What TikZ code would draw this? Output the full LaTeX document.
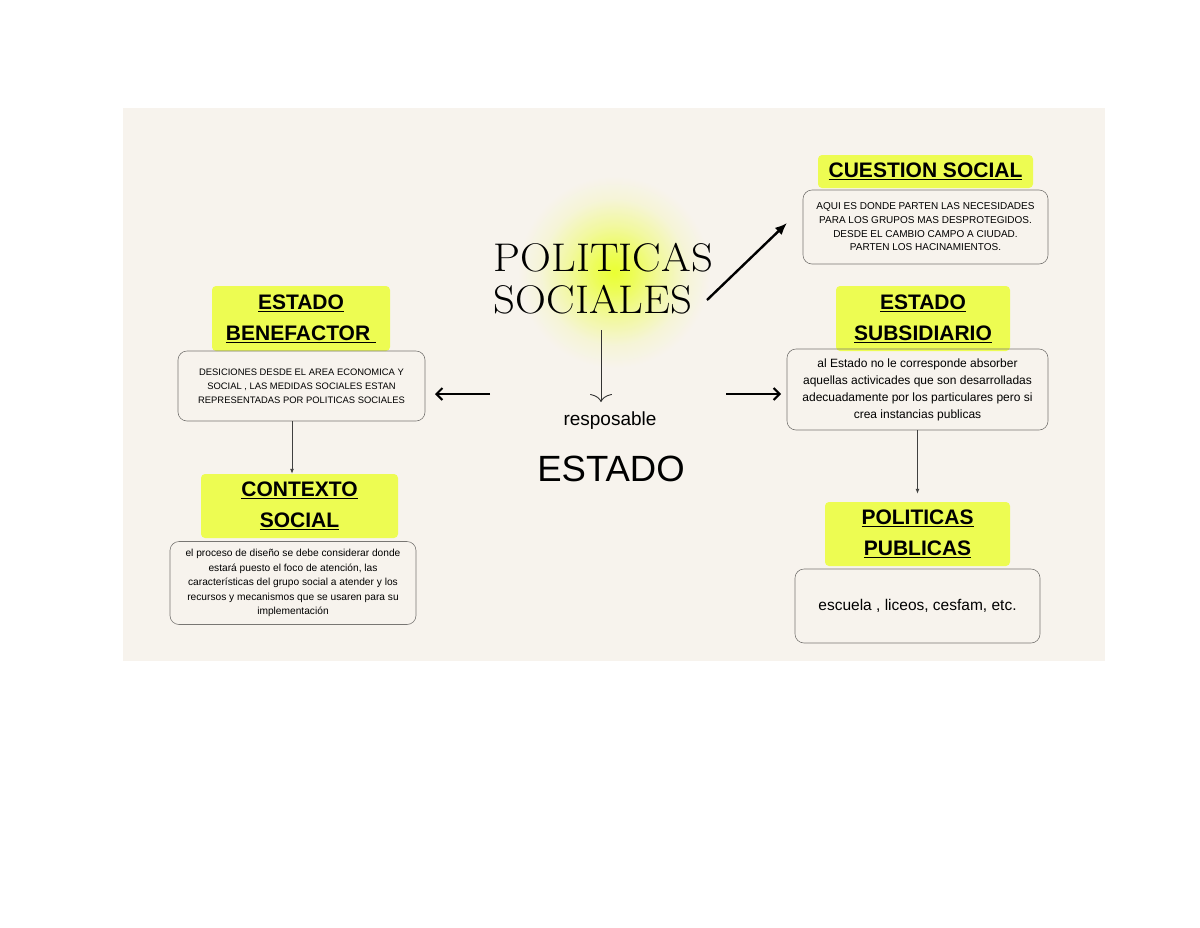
\documentclass[tikz,border=0pt]{standalone}
\usepackage{fontspec}
\usepackage{tikz}
\usetikzlibrary{arrows.meta}
\newfontfamily\lib{Liberation Sans}
\definecolor{bg}{RGB}{247,243,237}
\definecolor{yel}{RGB}{237,252,82}
\definecolor{glowc}{RGB}{234,255,50}
\definecolor{frame}{RGB}{120,118,115}
\pgfdeclareradialshading{glow}{\pgfpoint{0bp}{0bp}}{color(0bp)=(glowc); color(5bp)=(glowc!80!bg); color(12bp)=(glowc!42!bg); color(19bp)=(glowc!12!bg); color(25bp)=(bg); color(50bp)=(bg)}

\begin{document}
\begin{tikzpicture}[x=1pt, y=-1pt,
		head/.style={fill=yel, rounded corners=4pt, align=center, inner sep=0pt, font=\lib\bfseries\fontsize{21}{31}\selectfont},
		note/.style={draw=frame, line width=0.6pt, rounded corners=9pt, align=center, inner sep=0pt},
		link/.style={draw=black!75, line width=0.9pt, -{Latex[length=5pt,width=4pt]}},
		bigarrow/.style={line width=2pt, -{Straight Barb[length=6pt,width=12pt]}}]
			\useasboundingbox (0,0) rectangle (1200,927);
			\fill [white] (0,0) rectangle (1200,927);
			\fill [bg] (123,108) rectangle (1105,661);
			\shade [shading=glow] (614,272) circle (96);

			\node [anchor=west, align=left, xscale=1.07, font=\fontsize{40}{42}\selectfont] (title) at (490,279) {POLITICAS\\SOCIALES};
			\node [font=\lib\fontsize{19}{21}\selectfont] (resp) at (610,421) {resposable};
			\node [font=\lib\fontsize{36.5}{40}\selectfont] (estado) at (611,469) {ESTADO};

			\node [head, minimum width=215, minimum height=33] (cshead) at (925.5,171.5) {\underline{CUESTION SOCIAL}};
			\node [note, minimum width=245, minimum height=74, font=\lib\fontsize{10}{13.7}\selectfont] (cstext) at (925.5,227) {AQUI ES DONDE PARTEN LAS NECESIDADES\\PARA LOS GRUPOS MAS DESPROTEGIDOS.\\DESDE EL CAMBIO CAMPO A CIUDAD.\\PARTEN LOS HACINAMIENTOS.};

			\node [head, minimum width=174, minimum height=65] (sshead) at (923,318.5) {\underline{ESTADO}\\\underline{SUBSIDIARIO}};
			\node [note, minimum width=261, minimum height=81, font=\lib\fontsize{12}{17}\selectfont] (sstext) at (917.5,389.5) {al Estado no le corresponde absorber\\aquellas activicades que son desarrolladas\\adecuadamente por los particulares pero si\\crea instancias publicas};

			\node [head, minimum width=185, minimum height=64] (pphead) at (917.5,534) {\underline{POLITICAS}\\\underline{PUBLICAS}};
			\node [note, minimum width=245, minimum height=74, font=\lib\fontsize{15.5}{17}\selectfont] (pptext) at (917.5,606) {escuela , liceos, cesfam, etc.};

			\node [head, minimum width=178, minimum height=65] (bfhead) at (301,318.5) {\underline{ESTADO}\\\underline{BENEFACTOR\ }};
			\node [note, minimum width=247, minimum height=70, font=\lib\fontsize{9.4}{14}\selectfont] (bftext) at (301.5,386) {DESICIONES DESDE EL AREA ECONOMICA Y\\SOCIAL , LAS MEDIDAS SOCIALES ESTAN\\REPRESENTADAS POR POLITICAS SOCIALES};

			\node [head, minimum width=197, minimum height=64] (cxhead) at (299.5,506) {\underline{CONTEXTO}\\\underline{SOCIAL}};
			\node [note, minimum width=246, minimum height=83, font=\lib\fontsize{10.2}{14.5}\selectfont] (cxtext) at (293,583) {el proceso de diseño se debe considerar donde\\estará puesto el foco de atención, las\\características del grupo social a atender y los\\recursos y mecanismos que se usaren para su\\implementación};

			\coordinate (lfrom) at (490,394);
			\coordinate (lto) at (435,394);
			\coordinate (rfrom) at (726,394);
			\coordinate (rto) at (781,394);
			\coordinate (dfrom) at (707,300);
			\coordinate (dto) at (787,223);
			\coordinate (vfrom) at (601,330);
			\coordinate (vto) at (601,402);

			\draw [bigarrow] (lfrom) to (lto);
			\draw [bigarrow] (rfrom) to (rto);
			\draw [line width=2.4pt, -{Latex[length=12pt,width=10pt]}] (dfrom) to (dto);
			\draw [black!80, line width=0.9pt, -{To[length=8pt,width=22pt]}] (vfrom) to (vto);
			\draw [link] ([xshift=-9.5pt]bftext.south) to ([xshift=-7.5pt]cxhead.north);
			\draw [link, shorten >=8pt] (sstext.south) to (pphead.north);
		\end{tikzpicture}
\end{document}
